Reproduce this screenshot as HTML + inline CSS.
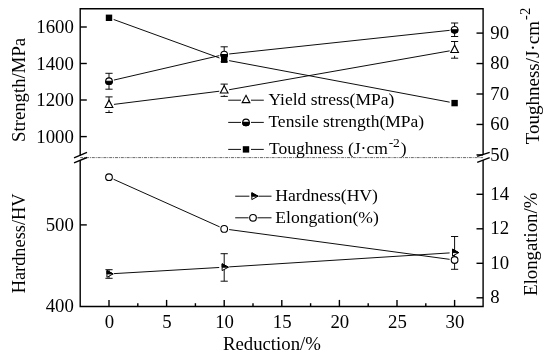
<!DOCTYPE html>
<html><head><meta charset="utf-8"><title>Chart</title>
<style>html,body{margin:0;padding:0;background:#fff}svg{display:block}text{font-family:"Liberation Serif","Times New Roman",serif;fill:#000}</style></head><body>
<svg width="550" height="358" viewBox="0 0 550 358">
<rect width="550" height="358" fill="#fff"/>
<line x1="80.2" y1="157.6" x2="483.1" y2="157.6" stroke="#444" stroke-width="0.8" stroke-dasharray="3 0.9 1 0.9"/>
<g stroke="#000" stroke-width="1.4" fill="none" stroke-linecap="butt">
<path d="M80.2 155.4V8.7H483.1V155"/>
<path d="M80.2 160.2V306.5H483.1V159.9"/>
<line x1="80.2" y1="27.0" x2="86.8" y2="27.0"/>
<line x1="80.2" y1="63.5" x2="86.8" y2="63.5"/>
<line x1="80.2" y1="100.0" x2="86.8" y2="100.0"/>
<line x1="80.2" y1="136.6" x2="86.8" y2="136.6"/>
<line x1="80.2" y1="224.9" x2="86.8" y2="224.9"/>
<line x1="483.1" y1="33.1" x2="476.5" y2="33.1"/>
<line x1="483.1" y1="63.55" x2="476.5" y2="63.55"/>
<line x1="483.1" y1="94.0" x2="476.5" y2="94.0"/>
<line x1="483.1" y1="124.45" x2="476.5" y2="124.45"/>
<line x1="483.1" y1="154.9" x2="476.5" y2="154.9"/>
<line x1="483.1" y1="194.3" x2="476.5" y2="194.3"/>
<line x1="483.1" y1="228.8" x2="476.5" y2="228.8"/>
<line x1="483.1" y1="263.3" x2="476.5" y2="263.3"/>
<line x1="483.1" y1="297.8" x2="476.5" y2="297.8"/>
<line x1="109.00" y1="306.5" x2="109.00" y2="299.9"/>
<line x1="166.60" y1="306.5" x2="166.60" y2="299.9"/>
<line x1="224.20" y1="306.5" x2="224.20" y2="299.9"/>
<line x1="281.80" y1="306.5" x2="281.80" y2="299.9"/>
<line x1="339.40" y1="306.5" x2="339.40" y2="299.9"/>
<line x1="397.00" y1="306.5" x2="397.00" y2="299.9"/>
<line x1="454.60" y1="306.5" x2="454.60" y2="299.9"/>
<line x1="137.80" y1="306.5" x2="137.80" y2="303.2"/>
<line x1="195.40" y1="306.5" x2="195.40" y2="303.2"/>
<line x1="253.00" y1="306.5" x2="253.00" y2="303.2"/>
<line x1="310.60" y1="306.5" x2="310.60" y2="303.2"/>
<line x1="368.20" y1="306.5" x2="368.20" y2="303.2"/>
<line x1="425.80" y1="306.5" x2="425.80" y2="303.2"/>
<line x1="74" y1="157.9" x2="87" y2="152.4"/><line x1="74" y1="162.9" x2="87" y2="157.5"/>
<line x1="477.2" y1="156.3" x2="489.7" y2="152.4"/><line x1="477.2" y1="162.3" x2="489.7" y2="157.6"/>
</g>
<g font-size="18.8" text-anchor="end">
<text x="73.9" y="33.0">1600</text>
<text x="73.9" y="69.5">1400</text>
<text x="73.9" y="106.0">1200</text>
<text x="73.9" y="142.6">1000</text>
<text x="73.9" y="230.9">500</text>
<text x="73.9" y="312.3">400</text>
</g>
<g font-size="18.8" text-anchor="start">
<text x="490.3" y="38.7">90</text>
<text x="490.3" y="69.1">80</text>
<text x="490.3" y="99.6">70</text>
<text x="490.3" y="130.1">60</text>
<text x="490.3" y="160.5">50</text>
<text x="490.3" y="199.9">14</text>
<text x="490.3" y="234.4">12</text>
<text x="490.3" y="268.9">10</text>
<text x="490.3" y="303.4">8</text>
</g>
<g font-size="18.8" text-anchor="middle">
<text x="109.4" y="327.6">0</text>
<text x="167.0" y="327.6">5</text>
<text x="224.6" y="327.6">10</text>
<text x="282.2" y="327.6">15</text>
<text x="339.8" y="327.6">20</text>
<text x="397.4" y="327.6">25</text>
<text x="455.0" y="327.6">30</text>
</g>
<text x="222.9" y="350.4" font-size="18.8">Reduction/%</text>
<text transform="translate(24.6,142.0) rotate(-90)" font-size="18.75">Strength/MPa</text>
<text transform="translate(25.4,293.3) rotate(-90)" font-size="18.35">Hardness/HV</text>
<text transform="translate(539.4,144.3) rotate(-90)" font-size="19">Toughness/J·cm<tspan font-size="14.5" dy="-9.4" dx="1.2">-2</tspan></text>
<text transform="translate(537.4,295.8) rotate(-90)" font-size="18.75">Elongation/%</text>
<g stroke="#000" stroke-width="0.95" fill="none">
<line x1="113.96" y1="104.38" x2="219.24" y2="91.22"/><line x1="229.12" y1="89.73" x2="449.68" y2="50.87"/>
<line x1="113.87" y1="80.07" x2="219.33" y2="55.63"/><line x1="229.17" y1="53.97" x2="449.63" y2="30.33"/>
<line x1="113.70" y1="19.51" x2="219.50" y2="57.99"/><line x1="229.11" y1="60.63" x2="449.69" y2="102.17"/>
<line x1="113.99" y1="273.61" x2="219.21" y2="267.49"/><line x1="229.19" y1="266.88" x2="449.61" y2="252.92"/>
<line x1="113.56" y1="179.25" x2="219.64" y2="226.85"/><line x1="229.16" y1="229.57" x2="449.64" y2="259.33"/>
<path d="M105.4 96.9H112.6M105.4 112.5H112.6M109.0 96.9V104M109.0 110.3V112.5"/>
<path d="M220.6 84.1H227.79999999999998M220.6 96.4H227.79999999999998M224.2 84.1V90M224.2 95.2V96.4"/>
<path d="M450.99999999999994 41.5H458.2M450.99999999999994 58.2H458.2M454.59999999999997 41.5V49M454.59999999999997 55.800000000000004V58.2"/>
<path d="M105.4 73.3H112.6M105.4 89.2H112.6M109.0 73.3V89.2"/>
<path d="M220.6 46.8H227.79999999999998M220.6 61.8H227.79999999999998M224.2 46.8V61.8"/>
<path d="M450.99999999999994 23.0H458.2M450.99999999999994 36.5H458.2M454.59999999999997 23.0V36.5"/>
<path d="M105.4 269.7H112.6M105.4 278.3H112.6M109.0 269.7V278.3"/>
<path d="M220.6 253.7H227.79999999999998M220.6 281.2H227.79999999999998M224.2 253.7V281.2"/>
<path d="M450.99999999999994 236.5H458.2M450.99999999999994 269.3H458.2M454.59999999999997 236.5V269.3"/>
<path d="M228.2 100.2H241M251 100.2H263.8"/>
<path d="M228.2 122.4H241M251 122.4H263.8"/>
<path d="M228.2 149.4H241M251 149.4H263.8"/>
<path d="M235.2 196.2H249.4M258.4 196.2H271.5"/>
<path d="M235.2 217.8H248.6M257.4 217.8H271.5"/>
</g>
<path d="M109.0 100.13L112.85 107.43H105.15Z" fill="#fff" stroke="#000" stroke-width="1.1"/>
<path d="M224.2 85.73L228.04999999999998 93.03H220.35Z" fill="#fff" stroke="#000" stroke-width="1.1"/>
<path d="M454.59999999999997 45.13L458.45 52.43H450.74999999999994Z" fill="#fff" stroke="#000" stroke-width="1.1"/>
<circle cx="109.0" cy="81.2" r="3.3" fill="#fff" stroke="#000" stroke-width="1.1"/><path d="M105.7 81.2A3.3 3.3 0 0 0 112.3 81.2Z" fill="#000" stroke="#000" stroke-width="1.1"/>
<circle cx="224.2" cy="54.5" r="3.3" fill="#fff" stroke="#000" stroke-width="1.1"/><path d="M220.89999999999998 54.5A3.3 3.3 0 0 0 227.5 54.5Z" fill="#000" stroke="#000" stroke-width="1.1"/>
<circle cx="454.59999999999997" cy="29.8" r="3.3" fill="#fff" stroke="#000" stroke-width="1.1"/><path d="M451.29999999999995 29.8A3.3 3.3 0 0 0 457.9 29.8Z" fill="#000" stroke="#000" stroke-width="1.1"/>
<rect x="105.8" y="14.600000000000001" width="6.4" height="6.4" fill="#000"/>
<rect x="221.0" y="56.5" width="6.4" height="6.4" fill="#000"/>
<rect x="451.4" y="99.89999999999999" width="6.4" height="6.4" fill="#000"/>
<circle cx="109.0" cy="177.2" r="3.35" fill="#fff" stroke="#000" stroke-width="1.1"/>
<circle cx="224.2" cy="228.9" r="3.35" fill="#fff" stroke="#000" stroke-width="1.1"/>
<circle cx="454.59999999999997" cy="260.0" r="3.35" fill="#fff" stroke="#000" stroke-width="1.1"/>
<path d="M106.93333333333334 270.5L113.13333333333334 273.9L106.93333333333334 277.29999999999995Z" fill="#fff" stroke="#000" stroke-width="1"/><path d="M106.93333333333334 270.5L113.13333333333334 273.9H106.93333333333334Z" fill="#000" stroke="#000" stroke-width="1"/>
<path d="M222.13333333333333 263.8L228.33333333333331 267.2L222.13333333333333 270.59999999999997Z" fill="#fff" stroke="#000" stroke-width="1"/><path d="M222.13333333333333 263.8L228.33333333333331 267.2H222.13333333333333Z" fill="#000" stroke="#000" stroke-width="1"/>
<path d="M452.5333333333333 249.2L458.7333333333333 252.6L452.5333333333333 256.0Z" fill="#fff" stroke="#000" stroke-width="1"/><path d="M452.5333333333333 249.2L458.7333333333333 252.6H452.5333333333333Z" fill="#000" stroke="#000" stroke-width="1"/>
<path d="M246 95.33L249.85 102.63H242.15Z" fill="#fff" stroke="#000" stroke-width="1.1"/>
<circle cx="246" cy="122.4" r="3.3" fill="#fff" stroke="#000" stroke-width="1.1"/><path d="M242.7 122.4A3.3 3.3 0 0 0 249.3 122.4Z" fill="#000" stroke="#000" stroke-width="1.1"/>
<rect x="242.8" y="146.20000000000002" width="6.4" height="6.4" fill="#000"/>
<path d="M251.83333333333334 192.79999999999998L258.03333333333336 196.2L251.83333333333334 199.6Z" fill="#fff" stroke="#000" stroke-width="1"/><path d="M251.83333333333334 192.79999999999998L258.03333333333336 196.2H251.83333333333334Z" fill="#000" stroke="#000" stroke-width="1"/>
<circle cx="253" cy="217.8" r="3.35" fill="#fff" stroke="#000" stroke-width="1.1"/>
<g font-size="17.5">
<text x="268.4" y="105.1">Yield stress(MPa)</text>
<text x="268.4" y="126.8">Tensile strength(MPa)</text>
<text x="269.0" y="154.2">Toughness (J·cm<tspan font-size="13.5" dy="-7.5" dx="0.8">-2</tspan><tspan dy="7.5" dx="0.8">)</tspan></text>
</g><g font-size="17.6">
<text x="275.3" y="201.4">Hardness(HV)</text>
<text x="275.3" y="223.0">Elongation(%)</text>
</g>
</svg></body></html>
